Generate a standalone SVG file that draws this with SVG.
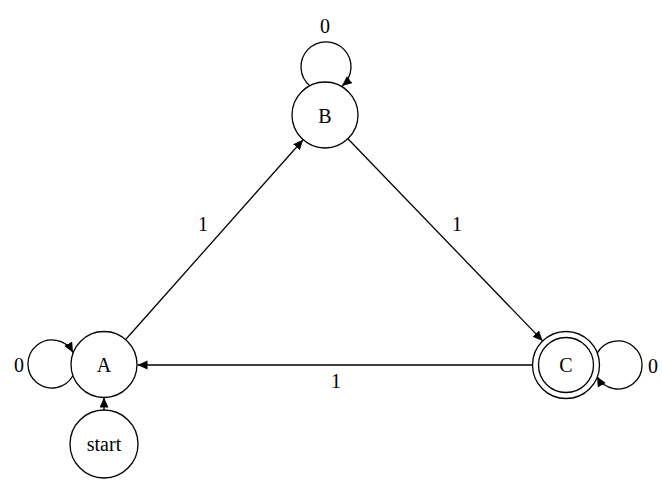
<svg xmlns="http://www.w3.org/2000/svg" width="662" height="485" viewBox="0 0 662 485">
<style>
.n{fill:#fff;stroke:#000;stroke-width:1.3}
.e{fill:none;stroke:#000;stroke-width:1.3;marker-end:url(#ah)}
text{font-family:"Liberation Serif","Times New Roman",serif;font-size:20px;fill:#000;text-anchor:middle}
</style>
<defs>
<marker id="ah" markerUnits="userSpaceOnUse" markerWidth="11" markerHeight="10" refX="10" refY="4.5" orient="auto">
<path d="M0,0 L10,4.5 L0,9 z" fill="#000"/>
</marker>
</defs>
<rect width="662" height="485" fill="#fff"/>
<g id="connectors">
<path class="e" d="M125.9,339.3 L303.1,139.7"/>
<path class="e" d="M347.9,138.8 L542.7,340.9"/>
<path class="e" d="M532.5,365 L137.5,365"/>
<path class="e" d="M104,410.5 L104,397.5"/>
<path class="e" d="M310,86 A25 25 0 1 1 342,86"/>
<path class="e" d="M73,375.5 A24 24 0 1 1 73,352.5"/>
<path class="e" d="M597,353.5 A24 24 0 1 1 597,376.5"/>
<text x="203" y="231">1</text>
<text x="457" y="231">1</text>
<text x="336" y="388">1</text>
<text x="325" y="33">0</text>
<text x="19" y="372">0</text>
<text x="653" y="373">0</text>
</g>
<g id="nodeB"><circle class="n" cx="325" cy="115" r="33"/><text x="325" y="123">B</text></g>
<g id="nodeA"><circle class="n" cx="104" cy="364.5" r="33"/><text x="104" y="372">A</text></g>
<g id="nodeC"><circle class="n" cx="566" cy="365" r="33.5"/><circle class="n" cx="566" cy="365" r="27.5"/><text x="566" y="372">C</text></g>
<g id="nodeStart"><circle class="n" cx="104" cy="444" r="34"/><text x="104" y="451">start</text></g>
</svg>
